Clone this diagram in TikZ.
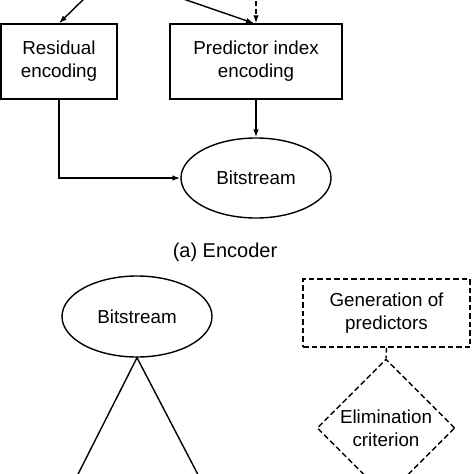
\documentclass[tikz,border=0pt]{standalone}
\usepackage{fontspec}
\setmainfont{Liberation Sans}
\usetikzlibrary{shapes.geometric,arrows.meta}
\tikzset{
  every node/.style={font=\fontsize{18.8}{23}\selectfont, align=center},
  box/.style={draw, line width=1.4pt, rectangle, inner sep=0pt},
  oval/.style={draw, line width=1.4pt, ellipse, inner sep=0pt, minimum width=150pt, minimum height=80pt},
  dbox/.style={box, dash pattern=on 5.5pt off 3pt},
  ddia/.style={draw, line width=1.4pt, diamond, aspect=1, inner sep=0pt, minimum size=138pt, dash pattern=on 5.5pt off 3pt},
  conn/.style={line width=1.4pt},
  arr/.style={conn, -{Latex[length=8pt,width=5.5pt]}},
}
\begin{document}
\begin{tikzpicture}[x=1pt,y=-1pt]
\useasboundingbox (0,0) rectangle (474,474);
\clip (0,0) rectangle (474,474);
\node[box, minimum width=116pt, minimum height=75pt] (res) at (59,61.5) {Residual\\encoding};
\node[box, minimum width=172pt, minimum height=75pt] (pie) at (256,61.5) {Predictor index\\encoding};
\node[oval] (bit1) at (256,178) {Bitstream};
\node (cap) at (225,252) {\fontsize{20}{24}\selectfont (a) Encoder};
\node[oval, minimum height=81pt] (bit2) at (137,316.5) {Bitstream};
\node[dbox, minimum width=167pt, minimum height=68pt] (gen) at (386.5,313) {Generation of\\predictors};
\node[ddia] (elim) at (386,428) {Elimination\\criterion};
\coordinate (r0) at (90,-7);
\coordinate (p0) at (166,-7);
\coordinate (d0) at (256,-7);
\coordinate (t1) at (70,490);
\coordinate (t2) at (206,490);
\draw[arr] (r0) -- (res.north);
\draw[arr] (p0) -- ([xshift=-2pt]pie.north);
\draw[arr, dash pattern=on 5pt off 3pt] (d0) -- (pie.north);
\draw[arr] (res.south) |- (bit1.west);
\draw[arr] (pie.south) -- (bit1.north);
\draw[conn] (t1) -- (bit2.south) -- (t2);
\draw[conn, dash pattern=on 5pt off 3pt] (gen.south) -- (elim.north);
\end{tikzpicture}
\end{document}
